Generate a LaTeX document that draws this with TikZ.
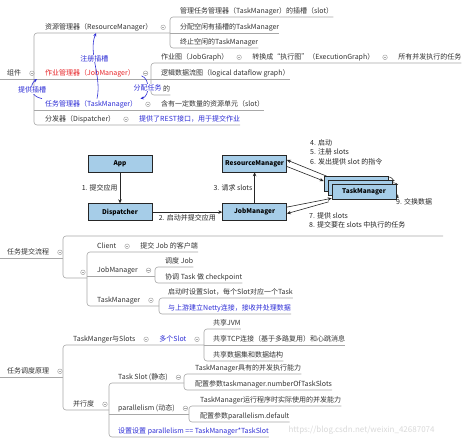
\documentclass[tikz,border=0pt]{standalone}
\usepackage{fontspec}
\setmainfont{Noto Sans CJK SC}
\usepackage{tikz}
\usetikzlibrary{positioning, arrows.meta, shadows}
\definecolor{ink}{HTML}{333333}
\definecolor{linegray}{HTML}{A8A8A8}
\definecolor{jobred}{HTML}{E8262A}
\definecolor{taskblue}{HTML}{2E2ED6}
\definecolor{boxblue}{HTML}{A6CDE8}

\begin{document}
\begin{tikzpicture}[x=1pt, y=-1pt, font=\fontsize{7}{8.5}\selectfont,
    topic/.style={anchor=south west, inner xsep=0pt, inner ysep=1.5pt, text height=6pt, text depth=2pt, text=ink},
    fold/.style={circle, draw=linegray, fill=white, line width=.5pt, minimum size=4.6pt, inner sep=0pt,
      path picture={\draw[linegray, line width=.5pt] ([xshift=1pt]path picture bounding box.west) -- ([xshift=-1pt]path picture bounding box.east);}},
    tree/.style={draw=linegray, line width=.6pt, rounded corners=3pt},
    rel/.style={draw=taskblue, line width=.6pt, -{Stealth[length=3.5pt, width=3pt]}},
    rlbl/.style={text=taskblue, fill=white, inner sep=.3pt},
    box/.style={draw=black!85, line width=.6pt, fill=boxblue, minimum width=64pt, minimum height=17pt, inner sep=1pt,
      font=\fontsize{6.5}{7}\selectfont\bfseries, drop shadow={shadow xshift=.7pt, shadow yshift=-.7pt, fill=black!70, opacity=1}},
    flow/.style={draw=black!85, line width=.6pt, -{Stealth[length=4pt, width=3.5pt]}},
    lbl/.style={text=black!85, inner sep=2pt},
  ]
  \useasboundingbox[fill=white] (0,0) rectangle (474,440);

  \coordinate (ka) at (34,0);
  \coordinate (kb) at (170,0);
  \coordinate (kc) at (151,0);
  \node[topic] (zj) at (7,79) {组件};
  \node[fold, right=8pt of zj] (zjf) {};
  \node[topic] (rm) at (45,33) {资源管理器（ResourceManager）};
  \node[fold, right=8pt of rm] (rmf) {};
  \node[topic] (rm1) at (180,17) {管理任务管理器（TaskManager）的插槽（slot）};
  \node[topic] (rm2) at (180,33) {分配空闲有插槽的TaskManager};
  \node[topic] (rm3) at (180,48) {终止空闲的TaskManager};
  \node[topic, text=jobred] (jm) at (45,79) {作业管理器（JobManager）};
  \node[fold, right=8pt of jm] (jmf) {};
  \node[topic] (jm1) at (161,63) {作业图（JobGraph）};
  \node[fold, right=8pt of jm1] (jm1f) {};
  \node[topic, right=10.5pt of jm1f] (jm1a) {转换成“执行图”（ExecutionGraph）};
  \node[fold, right=8pt of jm1a] (jm1af) {};
  \node[topic, right=10.5pt of jm1af] (jm1b) {所有并发执行的任务};
  \node[topic] (jm2) at (161,79) {逻辑数据流图（logical dataflow graph）};
  \node[topic] (jm3) at (163,95) {的};
  \node[topic, text=taskblue] (tm) at (45,110) {任务管理器（TaskManager）};
  \node[fold, right=8pt of tm] (tmf) {};
  \node[topic, right=10.5pt of tmf] (tm1) {含有一定数量的资源单元（slot）};
  \node[topic] (ds) at (45,125) {分发器（Dispatcher）};
  \node[fold, right=8pt of ds] (dsf) {};
  \node[topic, text=taskblue, right=10.5pt of dsf] (ds1) {提供了REST接口，用于提交作业};
  \draw[tree] ([xshift=-7pt]zj.south west) -- (ka |- zj.south);
  \draw[tree] (kb |- rm.south) -| (ka |- ds.south) -- (ds1.south east);
  \draw[tree] (ka |- jm.south) -- (kc |- jm.south);
  \draw[tree] (ka |- tm.south) -- (tm1.south east);
  \draw[tree] (rm1.south east) -| (kb |- rm3.south) -- (rm3.south east);
  \draw[tree] (kb |- rm2.south) -- (rm2.south east);
  \draw[tree] (jm1b.south east) -| (kc |- jm3.south) -- (jm3.south east);
  \draw[tree] (kc |- jm2.south) -- (jm2.south east);
  \draw[rel] ([xshift=52pt]tm.north west) .. controls +(5,-22) and +(-8,20) .. node[rlbl, pos=.6] {注册插槽} ([xshift=51pt]rm.south west);
  \draw[rel] ([xshift=-3pt]tm.north west) .. controls +(-12,-2) and +(-8,6) .. node[rlbl, pos=.5] {提供插槽} ([xshift=-8pt]jm.south west);
  \draw[rel] ([xshift=-4pt]jmf.south) .. controls +(9,3) and +(9,-2) .. node[rlbl, pos=.5] {分配任务} ([xshift=3pt]tm.north east);

  \node[box] (app) at (120,163.5) {App};
  \node[box, below=31pt of app] (disp) {Dispatcher};
  \node[box, right=70pt of disp] (jmb) {JobManager};
  \node[box, above=31pt of jmb] (rmb) {ResourceManager};
  \node[box, minimum height=15pt] (tmb1) at (356,184) {};
  \node[box, minimum height=15pt] (tmb2) at (360,188) {};
  \node[box, minimum height=15pt] (tmb3) at (364,191.5) {TaskManager};
  \draw[flow] (app) -- node[lbl, left] {1. 提交应用} (disp);
  \draw[flow] (disp) -- node[lbl, below] {2. 启动并提交应用} (jmb);
  \draw[flow] (jmb) -- node[lbl, left] {3. 请求 slots} (rmb);
  \draw[flow] ([xshift=3pt]tmb1.north west) -- ([yshift=3.5pt]rmb.east);
  \draw[flow] ([yshift=-3pt]rmb.east) -- ([yshift=3pt]tmb1.west);
  \draw[flow] ([yshift=5pt]jmb.east) -- ([yshift=1pt]tmb3.south west);
  \draw[flow] ([shift={(-3pt,-2.5pt)}]tmb3.south west) -- ([yshift=-1.5pt]jmb.east);
  \draw[flow, line width=.5pt, -{Stealth[length=2.5pt, width=2.5pt]}]
    ([yshift=-1pt]tmb1.north east) to[bend left=80] ([yshift=-1.5pt]tmb2.north east);
  \draw[flow, line width=.5pt, -{Stealth[length=2.5pt, width=2.5pt]}]
    ([yshift=-3pt]tmb2.north east) to[bend left=80] ([yshift=-2pt]tmb3.north east);
  \draw[flow, line width=.5pt, -{Stealth[length=2.5pt, width=2.5pt]}]
    ([yshift=-2pt]tmb3.east) to[bend left=80] ([yshift=2pt]tmb3.south east);
  \node[lbl, anchor=north west, align=left, font=\fontsize{7}{9.5}\selectfont] (l46) at (308,137) {4. 启动\\5. 注册 slots\\6. 发出提供 slot 的指令};
  \node[lbl, anchor=north west, align=left, font=\fontsize{7}{9}\selectfont] (l78) at (307,210) {7. 提供 slots\\8. 提交要在 slots 中执行的任务};
  \node[lbl, anchor=west] (l9) at (394,202) {9. 交换数据};

  \coordinate (kd) at (63,0);
  \coordinate (ke) at (87,0);
  \coordinate (kf) at (155,0);
  \coordinate (kg) at (159,0);
  \coordinate (pic) at (443,236);
  \node[topic] (sub) at (7,258) {任务提交流程};
  \node[fold, right=8pt of sub] (subf) {};
  \node[topic, minimum width=13pt] (blank) at (66,278) {};
  \node[fold, right=1pt of blank] (blankf) {};
  \node[topic] (cl) at (97,252) {Client};
  \node[fold, right=8pt of cl] (clf) {};
  \node[topic, right=10.5pt of clf] (cl1) {提交 Job 的客户端};
  \node[topic] (jmt) at (97,276) {JobManager};
  \node[fold, right=8pt of jmt] (jmtf) {};
  \node[topic] (jmc1) at (165,267) {调度 Job};
  \node[topic] (jmc2) at (165,283) {协调 Task 做 checkpoint};
  \node[topic] (tk) at (97,306) {TaskManager};
  \node[fold, right=8pt of tk] (tkf) {};
  \node[topic] (tkc1) at (168,298) {启动时设置Slot，每个Slot对应一个Task};
  \node[topic, text=taskblue] (tkc2) at (168,314) {与上游建立Netty连接，接收并处理数据};
  \draw[tree] ([xshift=-7pt]sub.south west) -- (kd |- sub.south);
  \draw[tree] (pic) -| (kd |- blank.south) -- (ke |- blank.south);
  \draw[tree] (cl1.south east) -| (ke |- tk.south) -- (kg |- tk.south);
  \draw[tree] (ke |- jmt.south) -- (kf |- jmt.south);
  \draw[tree] (jmc1.south east) -| (kf |- jmc2.south) -- (jmc2.south east);
  \draw[tree] (tkc1.south east) -| (kg |- tkc2.south) -- (tkc2.south east);

  \coordinate (kh) at (63,0);
  \coordinate (ki) at (204,0);
  \coordinate (kj) at (109,0);
  \coordinate (kk) at (184,0);
  \coordinate (kl) at (189,0);
  \node[topic] (sch) at (7,377) {任务调度原理};
  \node[fold, right=8pt of sch] (schf) {};
  \node[topic] (ts) at (73,345) {TaskManger与Slots};
  \node[fold, right=8pt of ts] (tsf) {};
  \node[topic, text=taskblue, right=10.5pt of tsf] (ms) {多个Slot};
  \node[fold, right=8pt of ms] (msf) {};
  \node[topic] (ms1) at (213,329) {共享JVM};
  \node[topic] (ms2) at (213,345) {共享TCP连接（基于多路复用）和心跳消息};
  \node[topic] (ms3) at (213,361) {共享数据集和数据结构};
  \node[topic] (px) at (73,410) {并行度};
  \node[fold, right=8pt of px] (pxf) {};
  \node[topic] (sl) at (118,383) {Task Slot (静态)};
  \node[fold, right=8pt of sl] (slf) {};
  \node[topic] (sl1) at (195,374) {TaskManager具有的并发执行能力};
  \node[topic] (sl2) at (195,390) {配置参数taskmanager.numberOfTaskSlots};
  \node[topic] (pl) at (118,414) {parallelism (动态)};
  \node[fold, right=8pt of pl] (plf) {};
  \node[topic] (pl1) at (200,406) {TaskManager运行程序时实际使用的并发能力};
  \node[topic] (pl2) at (200,422) {配置参数parallelism.default};
  \node[topic, text=taskblue] (st) at (118,437) {设置设置 parallelism == TaskManager*TaskSlot};
  \draw[tree] ([xshift=-7pt]sch.south west) -- (kh |- sch.south);
  \draw[tree] (ki |- ts.south) -| (kh |- px.south) -- (kj |- px.south);
  \draw[tree] (ms1.south east) -| (ki |- ms3.south) -- (ms3.south east);
  \draw[tree] (ki |- ms2.south) -- (ms2.south east);
  \draw[tree] (kk |- sl.south) -| (kj |- st.south) -- (st.south east);
  \draw[tree] (kj |- pl.south) -- (kl |- pl.south);
  \draw[tree] (sl1.south east) -| (kk |- sl2.south) -- (sl2.south east);
  \draw[tree] (pl1.south east) -| (kl |- pl2.south) -- (pl2.south east);

  \node[text=black!15, anchor=west, font=\fontsize{8}{9}\selectfont] (wm) at (285,430) {https://blog.csdn.net/weixin\_42687074};
\end{tikzpicture}
\end{document}
